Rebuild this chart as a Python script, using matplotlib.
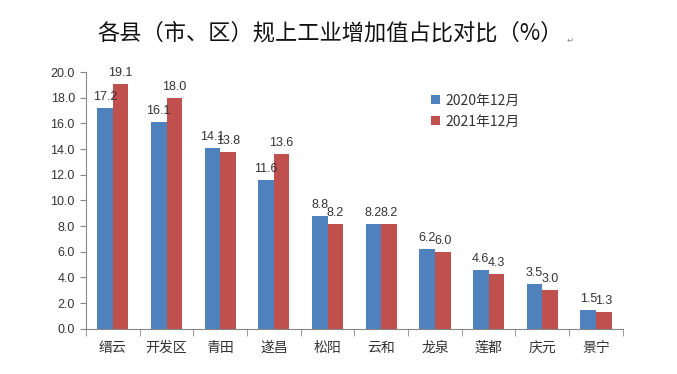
import matplotlib
matplotlib.use("Agg")
import matplotlib.pyplot as plt
import numpy as np

categories = ["缙云", "开发区", "青田", "遂昌", "松阳", "云和", "龙泉", "莲都", "庆元", "景宁"]
v2020 = [17.2, 16.1, 14.1, 11.6, 8.8, 8.2, 6.2, 4.6, 3.5, 1.5]
v2021 = [19.1, 18.0, 13.8, 13.6, 8.2, 8.2, 6.0, 4.3, 3.0, 1.3]
series_names = ["2020年12月", "2021年12月"]
title = "各县（市、区）规上工业增加值占比对比（%）"
yticks = [0, 2, 4, 6, 8, 10, 12, 14, 16, 18, 20]

plt.rcParams['font.family'] = ['Noto Sans CJK SC', 'DejaVu Sans']

fig = plt.figure(figsize=(6.77, 3.74), dpi=100)
ax = fig.add_axes([0.127, 0.121, 0.793, 0.686])

x = np.arange(len(categories))
w = 0.29
blue = "#4F81BD"
red = "#C0504D"
b1 = ax.bar(x - w / 2, v2020, w, color=blue, label=series_names[0])
b2 = ax.bar(x + w / 2, v2021, w, color=red, label=series_names[1])

for bars, vals in ((b1, v2020), (b2, v2021)):
    for r, v in zip(bars, vals):
        ax.annotate(f"{v:.1f}", (r.get_x() + r.get_width() / 2, v),
                    xytext=(0, 3.5), textcoords="offset points",
                    ha="center", va="bottom", fontsize=9, color="#333333",
                    family="Liberation Sans")

ax.set_xlim(-0.5, len(categories) - 0.5)
ax.set_ylim(0, 20)
ax.set_yticks(yticks)
ax.set_yticklabels([f"{t:.1f}" for t in yticks], family="Liberation Sans", fontsize=9, color="#333333")
ax.set_xticks(x)
ax.set_xticklabels(categories, fontsize=10, color="#333333")
ax.set_xticks(np.arange(-0.5, len(categories), 1), minor=True)
ax.tick_params(axis="x", which="major", length=0, pad=9)
ax.tick_params(axis="x", which="minor", length=5, color="#888888", direction="out")
ax.tick_params(axis="y", length=4, color="#888888", direction="out", pad=4)
for s in ("top", "right"):
    ax.spines[s].set_visible(False)
for s in ("left", "bottom"):
    ax.spines[s].set_color("#888888")
    ax.spines[s].set_linewidth(0.8)

leg = ax.legend(loc="upper left", bbox_to_anchor=(0.62, 0.965), frameon=False,
                fontsize=10, handlelength=0.6, handleheight=0.6, handletextpad=0.4,
                labelspacing=0.5)
for t in leg.get_texts():
    t.set_color("#333333")

fig.text(0.488, 0.912, title, ha="center", va="center", fontsize=16, color="#111111")
fig.text(0.842, 0.893, "↵", ha="center", va="center", fontsize=6, color="#888888",
         family=["DejaVu Sans"])

fig.savefig("out.png", dpi=100)
